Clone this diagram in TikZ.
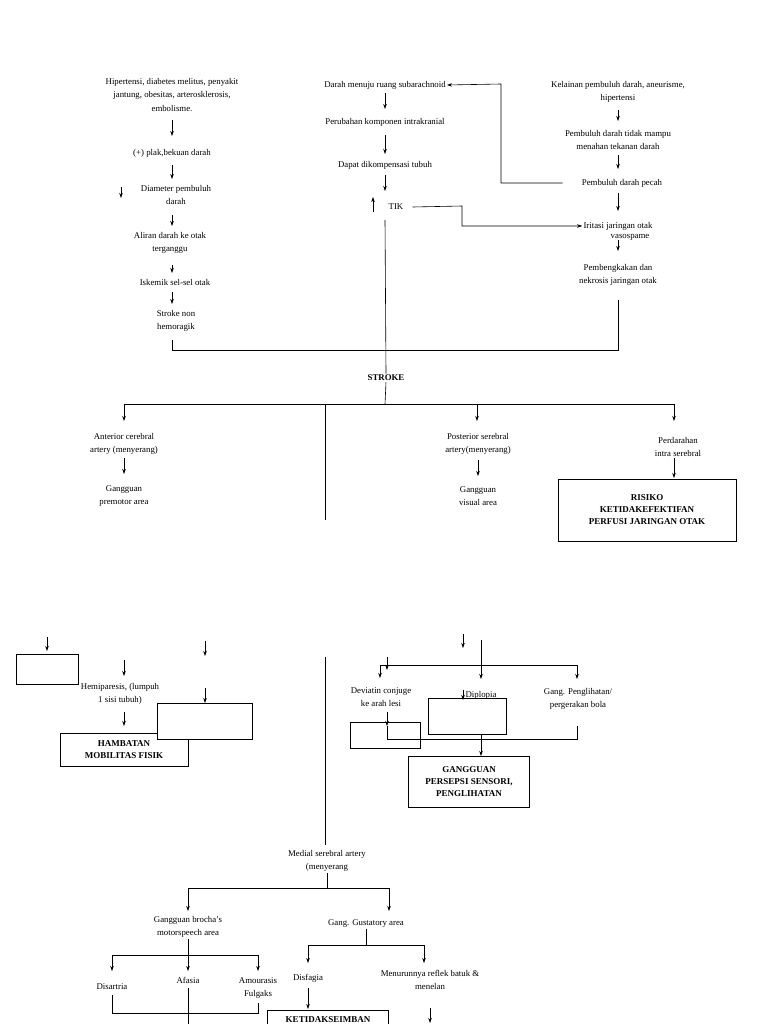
\documentclass[tikz,border=0pt]{standalone}
\usepackage{fontspec}
\setmainfont{Liberation Serif}
\usetikzlibrary{arrows.meta,positioning}

\begin{document}
\begin{tikzpicture}[x=1pt,y=-1pt,line width=0.6pt,
  txt/.style={align=center,inner sep=1pt,font=\fontsize{8.8}{13.5}\selectfont},
  bx/.style={draw,thick,align=center,inner sep=3pt,font=\fontsize{9}{12}\selectfont\bfseries},
  emp/.style={draw,thick},
  arr/.style={-{Stealth[length=5pt,width=3.5pt]}},
  ln/.style={line width=0.6pt}]
\useasboundingbox (0,0) rectangle (768,1024);
\clip (0,0) rectangle (768,1024);
\fill[white] (0,0) rectangle (768,1024);
% left column
\node[txt] (hip) at (172,95) {Hipertensi, diabetes melitus, penyakit\\jantung, obesitas, arterosklerosis,\\embolisme.};
\node[txt] (plak) at (172,153) {(+) plak,bekuan darah};
\node[txt] (diam) at (176,195) {Diameter pembuluh\\darah};
\node[txt] (alir) at (170,243) {Aliran darah ke otak\\terganggu};
\node[txt] (isk) at (175,282) {Iskemik sel-sel otak};
\node[txt] (snh) at (176,321) {Stroke non\\hemoragik};
\coordinate (dA) at (121,187); \coordinate (dB) at (121,198);
\draw[arr] (dA) -- (dB);
\draw[arr] (172,120) -- (172,136);
\draw[arr] (172,165) -- (172,179);
\draw[arr] (172,215) -- (172,226);
\draw[arr] (172,265) -- (172,273);
\draw[arr] (172,292) -- (172,304);
% middle column
\node[txt] (sub) at (385,85) {Darah menuju ruang subarachnoid};
\node[txt] (komp) at (385,122) {Perubahan komponen intrakranial};
\node[txt] (dkt) at (385,165) {Dapat dikompensasi tubuh};
\node[txt] (tik) at (396,207) {TIK};
\coordinate (tA) at (373,212); \coordinate (tB) at (373,197);
\draw[arr] (tA) -- (tB);
\draw[arr] (385,93) -- (385,109);
\draw[arr] (385,135) -- (385,154);
\draw[arr] (385,175) -- (385,191);
% right column
\node[txt] (kel) at (618,92) {Kelainan pembuluh darah, aneurisme,\\hipertensi};
\node[txt] (tdk) at (618,140) {Pembuluh darah tidak mampu\\menahan tekanan darah};
\node[txt] (pec) at (622,183) {Pembuluh darah pecah};
\node[txt] (iri) at (618,226) {Iritasi jaringan otak};
\node[txt] at (630,237) {vasospame};
\node[txt] (nek) at (618,275) {Pembengkakan dan\\nekrosis jaringan otak};
\draw[arr] (618,110) -- (618,121);
\draw[arr] (618,155) -- (618,169);
\draw[arr] (618,193) -- (618,211);
\draw[arr] (618,240) -- (618,251);
\draw[arr] (pec.west) ++(-18,0) -| (501,84) -- (sub.east);
\draw[arr] (tik.east) ++(8,0) -- (462,206) |- (iri.west);
% to stroke
\node[txt,font=\fontsize{8.8}{12}\selectfont\bfseries] (str) at (386,378) {STROKE};
\draw[ln] (172,340) -- (172,350) -- (618,350) -- (618,300);
\draw[ln] (385,220) -- (str.north);
\draw[ln] (str.south) -- (385,404);
\draw[ln] (124,404) -- (674,404);
\draw[ln] (325,404) -- (325,520);
\node[txt] (ant) at (124,444) {Anterior cerebral\\artery (menyerang)};
\node[txt] (pre) at (124,496) {Gangguan\\premotor area};
\node[txt] (pos) at (478,444) {Posterior serebral\\artery(menyerang)};
\node[txt] (vis) at (478,496) {Gangguan\\visual area};
\node[txt] (per) at (678,447) {Perdarahan\\intra serebral};
\node[bx,minimum width=178,minimum height=62] (ris) at (647,510) {RISIKO\\KETIDAKEFEKTIFAN\\PERFUSI JARINGAN OTAK};
\draw[arr] (124,404) -- (124,421);
\draw[arr] (477,404) -- (477,421);
\draw[arr] (674,404) -- (674,421);
\draw[arr] (124,458) -- (124,474);
\draw[arr] (478,460) -- (478,476);
\draw[arr] (674,458) -- (674,478);
% lower left
\draw[arr] (47,637) -- (47,651);
\draw[arr] (205,641) -- (205,656);
\draw[arr] (124,660) -- (124,676);
\draw[arr] (205,688) -- (205,703);
\draw[arr] (124,712) -- (124,726);
\node[emp,minimum width=62,minimum height=30] (e1) at (47,669) {};
\node[txt] (hem) at (120,694) {Hemiparesis, (lumpuh\\1 sisi tubuh)};
\node[bx,minimum width=128,minimum height=33] (ham) at (124,750) {HAMBATAN\\MOBILITAS FISIK};
\node[emp,minimum width=95,minimum height=36,fill=white] (e2) at (205,721) {};
\draw[ln] (325,657) -- (325,845);
% lower right
\draw[arr] (463,634) -- (463,648);
\draw[arr] (387,657) -- (387,670);
\draw[ln] (481,640) -- (481,665);
\draw[ln] (380,665) -- (577,665);
\draw[arr] (380,665) -- (380,678);
\draw[arr] (481,665) -- (481,679);
\draw[arr] (577,665) -- (577,679);
\node[txt] (dev) at (381,697) {Deviatin conjuge\\ke arah lesi};
\node[txt] (dip) at (481,695) {Diplopia};
\node[txt] (gpl) at (578,699) {Gang. Penglihatan/\\pergerakan bola};
\node[emp,minimum width=78,minimum height=36] (e3) at (467,716) {};
\node[emp,minimum width=70,minimum height=26] (e4) at (385,735) {};
\draw[arr] (463,690) -- (463,700);
\draw[arr] (387,712) -- (387,726);
\draw[ln] (387,726) -- (387,739) -- (577,739) -- (577,726);
\node[bx,minimum width=121,minimum height=51] (gps) at (469,782) {GANGGUAN\\PERSEPSI SENSORI,\\PENGLIHATAN};
\draw[arr] (481,734) -- (481,756);
% bottom
\node[txt] (med) at (327,861) {Medial serebral artery\\(menyerang};
\node[txt] (bro) at (188,927) {Gangguan brocha's\\motorspeech area};
\node[txt] (gus) at (366,924) {Gang. Gustatory area};
\draw[ln] (med.south) -- (327,888);
\draw[ln] (188,888) -- (389,888);
\draw[arr] (188,888) -- (188,911);
\draw[arr] (389,888) -- (389,911);
\draw[ln] (bro.south) -- (188,955);
\draw[ln] (112,955) -- (258,955);
\draw[arr] (112,955) -- (112,971);
\draw[arr] (188,955) -- (188,971);
\draw[arr] (258,955) -- (258,971);
\node[txt] (dis) at (112,987) {Disartria};
\node[txt] (afa) at (188,980) {Afasia};
\node[txt] (amo) at (258,988) {Amourasis\\Fulgaks};
\draw[ln] (112,995) -- (112,1013) -- (258,1013) -- (258,1003);
\draw[ln] (188,988) -- (188,1030);
\draw[ln] (gus.south) -- (366,945);
\draw[ln] (308,945) -- (424,945);
\draw[arr] (308,945) -- (308,963);
\draw[arr] (424,945) -- (424,963);
\node[txt] (dfg) at (308,978) {Disfagia};
\node[txt] (men) at (430,980) {Menurunnya reflek batuk \&\\menelan};
\node[bx,minimum width=121,minimum height=30,anchor=north] (ket) at (328,1010) {KETIDAKSEIMBAN\\~};
\draw[arr] (308,988) -- (308,1009);
\draw[arr] (430,1008) -- (430,1023);
\end{tikzpicture}
\end{document}
